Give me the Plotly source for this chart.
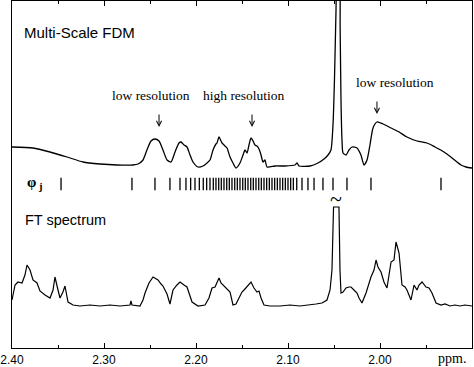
import plotly.graph_objects as go

# ---------------- data ----------------
# Multi-Scale FDM spectrum: chemical shift (ppm) and intensity above its baseline
fdm_ppm = [2.4000, 2.3772, 2.3587, 2.3402, 2.3228, 2.3043, 2.2859, 2.2685, 2.2630, 2.2576,
           2.2533, 2.2489, 2.2446, 2.2402, 2.2359, 2.2315, 2.2272, 2.2228, 2.2185, 2.2163,
           2.2130, 2.2098, 2.2065, 2.2033, 2.1978, 2.1924, 2.1880, 2.1848, 2.1815, 2.1783,
           2.1772, 2.1750, 2.1728, 2.1717, 2.1685, 2.1663, 2.1630, 2.1598, 2.1565, 2.1522,
           2.1489, 2.1467, 2.1446, 2.1424, 2.1402, 2.1380, 2.1359, 2.1337, 2.1315, 2.1293,
           2.1272, 2.1250, 2.1228, 2.1141, 2.1033, 2.0924, 2.0902, 2.0880, 2.0761, 2.0674,
           2.0609, 2.0565, 2.0533, 2.0511, 2.0495, 2.0478, 2.0462, 2.0446, 2.0433, 2.0424,
           2.0413, 2.0402, 2.0370, 2.0337, 2.0304, 2.0250, 2.0207, 2.0174, 2.0141, 2.0109,
           2.0076, 2.0033, 1.9967, 1.9880, 1.9793, 1.9707, 1.9598, 1.9489, 1.9402, 1.9304,
           1.9217, 1.9120, 1.9065, 1.9000]
fdm_int = [18, 17, 13, 8, 3, 1, 0, 0, 1, 5,
           15, 24, 26, 24, 15, 5, 3, 13, 22, 23,
           20, 18, 10, 3, -2, -1, 2, 5, 15, 21,
           22, 28, 24, 22, 19, 17, 8, 2, -3, 2,
           10, 15, 12, 20, 27, 24, 20, 19, 16, 10,
           3, 5, -2, -1, -1, 0, 2, -1, -1, 2,
           6, 10, 15, 40, 85, 155, 205, 205, 135, 65,
           25, 12, 10, 15, 18, 17, 10, 0, 5, 20,
           37, 43, 41, 37, 33, 28, 24, 22, 18, 13,
           7, 0, -2, -3]

# FT spectrum: chemical shift (ppm) and intensity above its baseline
ft_ppm = [2.4000, 2.3967, 2.3935, 2.3891, 2.3859, 2.3837, 2.3804, 2.3772, 2.3728, 2.3696,
          2.3641, 2.3587, 2.3554, 2.3533, 2.3500, 2.3478, 2.3446, 2.3424, 2.3391, 2.3337,
          2.3261, 2.3152, 2.3043, 2.2935, 2.2826, 2.2717, 2.2707, 2.2696, 2.2609, 2.2576,
          2.2554, 2.2511, 2.2467, 2.2435, 2.2413, 2.2380, 2.2359, 2.2337, 2.2315, 2.2283,
          2.2250, 2.2207, 2.2174, 2.2130, 2.2098, 2.2065, 2.2043, 2.1978, 2.1902, 2.1859,
          2.1826, 2.1793, 2.1750, 2.1728, 2.1707, 2.1663, 2.1630, 2.1598, 2.1565, 2.1522,
          2.1500, 2.1478, 2.1435, 2.1402, 2.1370, 2.1337, 2.1315, 2.1293, 2.1261, 2.1196,
          2.1087, 2.0978, 2.0870, 2.0761, 2.0696, 2.0630, 2.0576, 2.0543, 2.0522, 2.0505,
          2.0446, 2.0435, 2.0424, 2.0402, 2.0370, 2.0337, 2.0315, 2.0283, 2.0250, 2.0228,
          2.0196, 2.0152, 2.0098, 2.0065, 2.0043, 2.0022, 1.9989, 1.9957, 1.9924, 1.9902,
          1.9880, 1.9848, 1.9826, 1.9793, 1.9772, 1.9761, 1.9728, 1.9707, 1.9663, 1.9630,
          1.9598, 1.9576, 1.9543, 1.9500, 1.9467, 1.9435, 1.9391, 1.9337, 1.9293, 1.9239,
          1.9185, 1.9130, 1.9076, 1.9000]
ft_int = [5, 20, 23, 22, 30, 40, 35, 25, 22, 14,
          10, 7, 15, 28, 15, 7, 13, 19, 3, 0,
          -1, 0, -1, 0, -1, 0, 4, 0, -1, 5,
          12, 22, 28, 26, 25, 21, 19, 15, 11, 1,
          15, 20, 23, 20, 18, 9, 3, -1, 0, 7,
          17, 18, 27, 22, 20, 16, 13, 0, 1, 9,
          13, 15, 19, 23, 17, 13, 14, 7, 0, -1,
          -1, 0, -1, 0, 1, 2, 5, 15, 35, 98,
          98, 35, 12, 13, 17, 18, 18, 15, 12, 7,
          2, 12, 28, 35, 45, 38, 33, 23, 17, 30,
          43, 45, 63, 52, 35, 20, 18, 15, 5, 20,
          15, 20, 23, 18, 17, 12, 2, 0, 1, -1,
          0, -1, 0, -1]

# positions of the basis functions phi_j (ppm)
phi_ppm = [2.3467, 2.2696, 2.2446, 2.2283, 2.2174, 2.2109, 2.2058, 2.2011, 2.1964, 2.1921,
           2.1884, 2.1848, 2.1812, 2.1783, 2.1753, 2.1725, 2.1696, 2.1666, 2.1638, 2.1609,
           2.1579, 2.1551, 2.1522, 2.1492, 2.1464, 2.1435, 2.1405, 2.1377, 2.1348, 2.1318,
           2.1290, 2.1261, 2.1232, 2.1203, 2.1174, 2.1145, 2.1116, 2.1087, 2.1058, 2.1029,
           2.1000, 2.0971, 2.0942, 2.0905, 2.0848, 2.0783, 2.0717, 2.0620, 2.0511, 2.0359,
           2.0098, 1.9337]

tick_vals = [2.40, 2.30, 2.20, 2.10, 2.00]
tick_text = ["2.40", "2.30", "2.20", "2.10", "2.00"]

# ---------------- layout constants ----------------
FDM_OFFSET = 183
FT_OFFSET = 43
PHI_LEVEL = 164
Y_MAX = 347

fig = go.Figure()
fig.add_trace(go.Scatter(x=fdm_ppm, y=[v + FDM_OFFSET for v in fdm_int], mode="lines",
                         line=dict(color="black", width=1.3, shape="spline", smoothing=0.6),
                         hoverinfo="skip", showlegend=False))
fig.add_trace(go.Scatter(x=ft_ppm, y=[v + FT_OFFSET for v in ft_int], mode="lines",
                         line=dict(color="black", width=1.2),
                         hoverinfo="skip", showlegend=False))
fig.add_trace(go.Scatter(x=phi_ppm, y=[PHI_LEVEL] * len(phi_ppm), mode="markers",
                         marker=dict(symbol="line-ns", size=9,
                                     line=dict(color="black", width=1.3)),
                         hoverinfo="skip", showlegend=False))

serif = "Liberation Serif, Times New Roman, serif"
sans = "Liberation Sans, Arial, sans-serif"

annotations = [
    dict(text="Multi-Scale FDM", x=0.022, xref="paper", y=316, yref="y",
         xanchor="left", yanchor="middle", showarrow=False,
         font=dict(family=sans, size=15, color="black")),
    dict(text="FT spectrum", x=0.024, xref="paper", y=128, yref="y",
         xanchor="left", yanchor="middle", showarrow=False,
         font=dict(family=sans, size=14.5, color="black")),
    dict(text="low resolution", x=2.2489, y=253, xanchor="center", yanchor="middle",
         showarrow=False, font=dict(family=serif, size=13.5, color="black")),
    dict(text="high resolution", x=2.1478, y=253, xanchor="center", yanchor="middle",
         showarrow=False, font=dict(family=serif, size=13.5, color="black")),
    dict(text="low resolution", x=1.9837, y=266, xanchor="center", yanchor="middle",
         showarrow=False, font=dict(family=serif, size=13.5, color="black")),
    dict(text="~", x=2.0478, y=150, xanchor="center", yanchor="middle", showarrow=False,
         font=dict(family=serif, size=22, color="black")),
    dict(text="<b>φ<sub> j</sub></b>", x=0.05, xref="paper", y=PHI_LEVEL + 1, yref="y",
         xanchor="center", yanchor="middle", showarrow=False,
         font=dict(family=serif, size=15, color="black")),
    dict(text="ppm.", x=0.957, xref="paper", y=-0.029, yref="paper",
         xanchor="center", yanchor="middle", showarrow=False,
         font=dict(family=serif, size=14, color="black")),
]
# arrows (tip positions)
for ax_ppm, tip in [(2.2402, 221), (2.1391, 221), (2.0033, 234)]:
    annotations.append(dict(text="", x=ax_ppm, y=tip, ax=0, ay=-14, showarrow=True,
                            arrowhead=5, arrowsize=1, arrowwidth=1, arrowcolor="black"))

fig.update_layout(
    width=474, height=367,
    margin=dict(l=12, r=2, t=1, b=19, autoexpand=False),
    paper_bgcolor="white", plot_bgcolor="white",
    annotations=annotations,
    xaxis=dict(range=[2.40, 1.90], showgrid=False, zeroline=False, automargin=False,
               showline=True, linecolor="black", linewidth=1.2, mirror="allticks",
               ticks="inside", ticklen=5, tickcolor="black", tickwidth=1,
               tickvals=tick_vals, ticktext=tick_text,
               tickfont=dict(family=sans, size=12, color="black"),
               minor=dict(dtick=0.05, tick0=2.0, ticks="inside", ticklen=3,
                          tickcolor="black", showgrid=False)),
    yaxis=dict(range=[0, Y_MAX], showgrid=False, zeroline=False, showticklabels=False,
               automargin=False,
               showline=True, linecolor="black", linewidth=1.2, mirror=True, ticks=""),
)

fig.write_html("out.html", config={"displayModeBar": False, "staticPlot": True},
               post_script="document.body.style.margin='0';document.body.style.overflow='hidden';")
